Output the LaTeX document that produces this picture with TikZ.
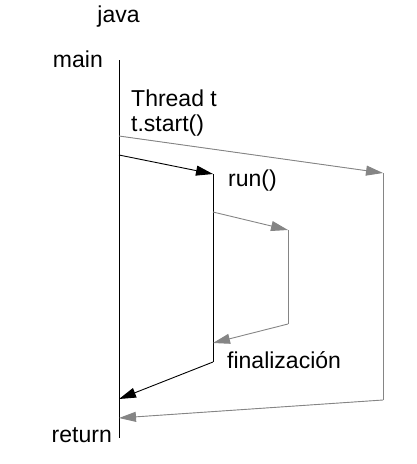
\documentclass[tikz,border=0pt]{standalone}
\usepackage{fontspec}
\setmainfont{Liberation Sans}
\usetikzlibrary{arrows.meta}
\definecolor{lgray}{HTML}{858585}
\tikzset{
  lbl/.style={inner sep=0pt, font=\fontsize{23}{25}\selectfont},
  blk/.style={draw=black, line width=0.9pt},
  gry/.style={draw=lgray, line width=0.9pt},
  tipb/.style={-{Triangle[length=17pt,width=10pt]}},
}
\begin{document}
\begin{tikzpicture}[x=1pt,y=-1pt]
\useasboundingbox (0,0) rectangle (416,464);
% labels
\node[lbl, anchor=base] (java) at (118.5,22) {java};
\node[lbl, anchor=base east] (main) at (103,67) {main};
\node[lbl, anchor=base west] (thr) at (131,106) {Thread t};
\node[lbl, anchor=base west] (st) at (131,131) {t.start()};
\node[lbl, anchor=base west] (run) at (228,186) {run()};
\node[lbl, anchor=base west] (fin) at (227,368) {finalización};
\node[lbl, anchor=base east] (ret) at (112,442) {return};
% coordinates
\coordinate (M1) at (119,60);
\coordinate (M2) at (119,438);
\coordinate (T0) at (119,136);
\coordinate (T1) at (383,173);
\coordinate (T2) at (383,400);
\coordinate (T3) at (119,418);
\coordinate (B0) at (119,155);
\coordinate (B1) at (213,174);
\coordinate (B2) at (213,362);
\coordinate (B3) at (119,399);
\coordinate (G0) at (213,212);
\coordinate (G1) at (288,230);
\coordinate (G2) at (288,324);
\coordinate (G3) at (213,343);
% main line
\draw[blk, line width=0.8pt] (M1) -- (M2);
% thread t (gray)
\draw[gry, tipb, fill=lgray] (T0) -- (T1);
\draw[gry] (T1) -- (T2);
\draw[gry, tipb, fill=lgray] (T2) -- (T3);
% run (black)
\draw[blk, tipb] (B0) -- (B1);
\draw[blk] (B1) -- (B2);
\draw[blk, tipb] (B2) -- (B3);
% inner gray
\draw[gry, tipb] (G0) -- (G1);
\draw[gry] (G1) -- (G2);
\draw[gry, tipb] (G2) -- (G3);
\end{tikzpicture}
\end{document}
